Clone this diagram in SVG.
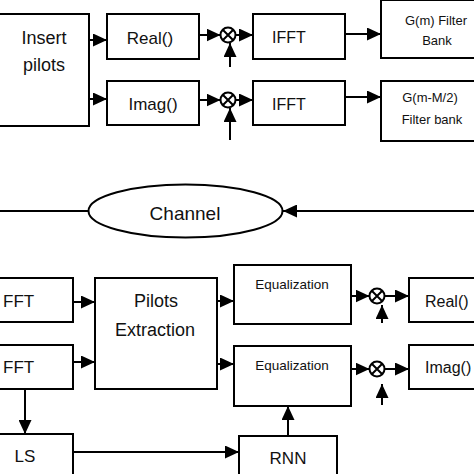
<svg xmlns="http://www.w3.org/2000/svg" width="474" height="474" viewBox="0 0 474 474">
<style>
.box{fill:#fff;stroke:#000;stroke-width:2}
.ln{fill:none;stroke:#000;stroke-width:2}
.t{font-family:"Liberation Sans",Arial,sans-serif;fill:#111;text-anchor:middle}
.ts{font-family:"Liberation Sans",Arial,sans-serif;fill:#111}
.mul{fill:#fff;stroke:#000;stroke-width:2}
</style>
<defs>
<marker id="arr" markerUnits="userSpaceOnUse" markerWidth="14" markerHeight="13" refX="14" refY="6.5" orient="auto">
<path d="M0,0 L14,6.5 L0,13 z" fill="#000"/>
</marker>
</defs>
<rect width="474" height="474" fill="#fff"/>

<g id="connectors">
<line class="ln" x1="89" y1="40" x2="107" y2="40" marker-end="url(#arr)"/>
<line class="ln" x1="89" y1="99" x2="107" y2="99" marker-end="url(#arr)"/>
<line class="ln" x1="199" y1="35" x2="220.5" y2="35" marker-end="url(#arr)"/>
<line class="ln" x1="199" y1="100" x2="220.5" y2="100" marker-end="url(#arr)"/>
<line class="ln" x1="235.5" y1="35" x2="253" y2="35" marker-end="url(#arr)"/>
<line class="ln" x1="235.5" y1="100" x2="253" y2="100" marker-end="url(#arr)"/>
<line class="ln" x1="230" y1="67" x2="230" y2="43" marker-end="url(#arr)"/>
<line class="ln" x1="230" y1="140" x2="230" y2="108" marker-end="url(#arr)"/>
<line class="ln" x1="345" y1="34" x2="381" y2="34" marker-end="url(#arr)"/>
<line class="ln" x1="345" y1="97" x2="381" y2="97" marker-end="url(#arr)"/>
<line class="ln" x1="0" y1="211" x2="88" y2="211"/>
<line class="ln" x1="474" y1="211" x2="283" y2="211" marker-end="url(#arr)"/>
<line class="ln" x1="73" y1="302" x2="95" y2="302" marker-end="url(#arr)"/>
<line class="ln" x1="73" y1="362" x2="95" y2="362" marker-end="url(#arr)"/>
<line class="ln" x1="217" y1="301" x2="234" y2="301" marker-end="url(#arr)"/>
<line class="ln" x1="217" y1="364" x2="234" y2="364" marker-end="url(#arr)"/>
<line class="ln" x1="351" y1="296" x2="369.5" y2="296" marker-end="url(#arr)"/>
<line class="ln" x1="351" y1="369" x2="369.5" y2="369" marker-end="url(#arr)"/>
<line class="ln" x1="384.5" y1="296" x2="409" y2="296" marker-end="url(#arr)"/>
<line class="ln" x1="384.5" y1="369" x2="409" y2="369" marker-end="url(#arr)"/>
<line class="ln" x1="382" y1="323" x2="382" y2="305" marker-end="url(#arr)"/>
<line class="ln" x1="382" y1="405" x2="382" y2="384" marker-end="url(#arr)"/>
<line class="ln" x1="25" y1="389" x2="25" y2="434" marker-end="url(#arr)"/>
<line class="ln" x1="73" y1="452" x2="239" y2="452" marker-end="url(#arr)"/>
<line class="ln" x1="288" y1="436" x2="288" y2="406" marker-end="url(#arr)"/>
</g>

<g id="insert-pilots">
<rect class="box" x="-5" y="14" width="94" height="112"/>
<text class="t" x="44" y="44" font-size="18">Insert</text>
<text class="t" x="44" y="71" font-size="18">pilots</text>
</g>
<g id="real-tx">
<rect class="box" x="107" y="14" width="92" height="45"/>
<text class="t" x="150" y="44" font-size="17">Real()</text>
</g>
<g id="imag-tx">
<rect class="box" x="107" y="81" width="92" height="44"/>
<text class="t" x="153" y="110" font-size="17">Imag()</text>
</g>
<g id="mul-tx-1">
<circle class="mul" cx="228" cy="35" r="7.5"/>
<path class="ln" d="M223,30 L233,40 M233,30 L223,40" stroke-width="1.5"/>
</g>
<g id="mul-tx-2">
<circle class="mul" cx="228" cy="100" r="7.5"/>
<path class="ln" d="M223,95 L233,105 M233,95 L223,105" stroke-width="1.5"/>
</g>
<g id="ifft-1">
<rect class="box" x="253" y="14" width="92" height="45"/>
<text class="t" x="289" y="43" font-size="16">IFFT</text>
</g>
<g id="ifft-2">
<rect class="box" x="253" y="81" width="92" height="44"/>
<text class="t" x="289" y="110" font-size="16">IFFT</text>
</g>
<g id="filter-bank-1">
<rect class="box" x="381" y="0" width="100" height="58"/>
<text class="t" x="436" y="25" font-size="13">G(m) Filter</text>
<text class="t" x="437" y="45" font-size="13">Bank</text>
</g>
<g id="filter-bank-2">
<rect class="box" x="381" y="81" width="100" height="60"/>
<text class="t" x="430" y="102" font-size="13">G(m-M/2)</text>
<text class="t" x="432" y="124" font-size="13">Filter bank</text>
</g>
<g id="channel">
<ellipse class="box" cx="185.5" cy="211" rx="97" ry="26.5"/>
<text class="t" x="185" y="220" font-size="19">Channel</text>
</g>
<g id="fft-1">
<rect class="box" x="-5" y="278" width="78" height="44"/>
<text class="ts" x="3" y="307" font-size="17">FFT</text>
</g>
<g id="fft-2">
<rect class="box" x="-5" y="345" width="78" height="44"/>
<text class="ts" x="3" y="373" font-size="17">FFT</text>
</g>
<g id="pilots-extraction">
<rect class="box" x="95" y="278" width="122" height="111"/>
<text class="t" x="156" y="307" font-size="18">Pilots</text>
<text class="t" x="155" y="336" font-size="18">Extraction</text>
</g>
<g id="equalization-1">
<rect class="box" x="234" y="265" width="117" height="59"/>
<text class="t" x="292" y="289" font-size="13.5">Equalization</text>
</g>
<g id="equalization-2">
<rect class="box" x="234" y="346" width="117" height="60"/>
<text class="t" x="292" y="370" font-size="13.5">Equalization</text>
</g>
<g id="mul-rx-1">
<circle class="mul" cx="377" cy="296" r="7.5"/>
<path class="ln" d="M372,291 L382,301 M382,291 L372,301" stroke-width="1.5"/>
</g>
<g id="mul-rx-2">
<circle class="mul" cx="377" cy="369" r="7.5"/>
<path class="ln" d="M372,364 L382,374 M382,364 L372,374" stroke-width="1.5"/>
</g>
<g id="real-rx">
<rect class="box" x="409" y="278" width="80" height="44"/>
<text class="ts" x="425" y="307" font-size="16">Real()</text>
</g>
<g id="imag-rx">
<rect class="box" x="409" y="345" width="80" height="44"/>
<text class="ts" x="425" y="373" font-size="16">Imag()</text>
</g>
<g id="ls">
<rect class="box" x="-5" y="434" width="78" height="50"/>
<text class="t" x="25" y="462" font-size="17">LS</text>
</g>
<g id="rnn">
<rect class="box" x="239" y="436" width="98" height="48"/>
<text class="t" x="288" y="464" font-size="17">RNN</text>
</g>
</svg>
